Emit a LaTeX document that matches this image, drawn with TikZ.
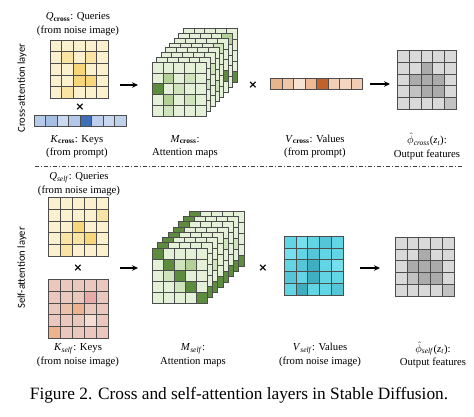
\documentclass[tikz,border=0pt]{standalone}
\usepackage{fontspec}
\setmainfont{Liberation Serif}
\newfontfamily\sidefont{Carlito}
\newfontfamily\symfont{DejaVu Sans}
\usetikzlibrary{arrows.meta}
% yellow
\definecolor{yA}{HTML}{FCF1CF}\definecolor{yB}{HTML}{FAE4A3}\definecolor{yC}{HTML}{F7D77A}
% blue bar
\definecolor{kb1}{HTML}{B6CAEA}\definecolor{kb2}{HTML}{A8BFE4}\definecolor{kb3}{HTML}{CADAF0}
\definecolor{kb4}{HTML}{B3C8E8}\definecolor{kbd}{HTML}{3F70B7}\definecolor{kb5}{HTML}{BDCFEC}
\definecolor{kb6}{HTML}{C9D8F0}\definecolor{kb7}{HTML}{C0D1EC}
% orange bar
\definecolor{vo1}{HTML}{E9B48C}\definecolor{vo2}{HTML}{F0C7A6}\definecolor{vo3}{HTML}{F8E2D4}
\definecolor{vo4}{HTML}{EDBA93}\definecolor{vod}{HTML}{C0622A}\definecolor{vo5}{HTML}{F2CFB5}
\definecolor{vo6}{HTML}{F4D6C0}\definecolor{vo7}{HTML}{F2CDB2}
% pink
\definecolor{pA}{HTML}{EBC8BE}\definecolor{pB}{HTML}{E8AAA8}\definecolor{pC}{HTML}{EDB38E}
\definecolor{pD}{HTML}{F3DDD4}\definecolor{pE}{HTML}{EDC0AA}
% green
\definecolor{gA}{HTML}{E5F0D9}\definecolor{gB}{HTML}{CFE3BC}\definecolor{gM}{HTML}{B3D197}
\definecolor{gD}{HTML}{5E8C3F}
% cyan
\definecolor{cA}{HTML}{62D5E5}\definecolor{cB}{HTML}{76DFED}\definecolor{cC}{HTML}{55C6D8}
\definecolor{cD}{HTML}{3FAEC0}
% gray
\definecolor{oA}{HTML}{D9D9D9}\definecolor{oB}{HTML}{C2C2C2}\definecolor{oC}{HTML}{ABABAB}
\definecolor{lineC}{HTML}{4D4D4D}

\newcommand{\cellgrid}[6]{%
  \foreach \cc [count=\i from 0] in {#6} {%
    \pgfmathtruncatemacro{\rr}{floor(\i/#3)}%
    \pgfmathtruncatemacro{\kk}{\i-\rr*#3}%
    \filldraw[fill=\cc, gridline] ({#1+\kk*#4},{#2+\rr*#5}) rectangle ++(#4,#5);%
  }%
}

\begin{document}
\begin{tikzpicture}[x=1pt,y=-1pt,
  gridline/.style={draw=lineC, line width=0.6pt},
  lbl/.style={align=center, inner sep=0pt, font=\fontsize{10.7}{13.6}\selectfont},
  side/.style={rotate=90, inner sep=0pt, font=\sidefont\fontsize{10.6}{12}\selectfont},
  times/.style={inner sep=0pt, font=\symfont\bfseries\fontsize{11}{11}\selectfont},
  arr/.style={-{Stealth[length=6pt,width=5.5pt]}, line width=1.2pt, black},
  sep/.style={draw=black!75, line width=0.7pt, dash pattern=on 4pt off 2pt on 1pt off 2pt}
]
\useasboundingbox[fill=white] (0,0) rectangle (474,416);

%================ CROSS ATTENTION =================
% Q cross
\cellgrid{50}{40}{5}{11.6}{11.6}{yA,yA,yA,yA,yA, yA,yB,yA,yB,yA, yA,yA,yC,yA,yA, yA,yA,yC,yC,yA, yA,yB,yA,yA,yA}
% K cross bar
\cellgrid{34.3}{115}{8}{11.46}{11}{kb1,kb2,kb3,kb4,kbd,kb5,kb6,kb7}
% M cross stack
\cellgrid{152+7*4.43}{62-7*4.79}{5}{10.8}{10.8}{gA,gA,gA,gA,gA, gA,gA,gA,gA,gA, gA,gA,gA,gA,gA, gA,gA,gA,gA,gA, gA,gA,gA,gA,gD}
\cellgrid{152+6*4.43}{62-6*4.79}{5}{10.8}{10.8}{gA,gA,gA,gA,gM, gA,gA,gA,gA,gA, gA,gA,gA,gA,gA, gA,gA,gA,gA,gA, gA,gA,gA,gA,gA}
\cellgrid{152+5*4.43}{62-5*4.79}{5}{10.8}{10.8}{gA,gA,gA,gA,gA, gA,gA,gA,gA,gA, gA,gA,gA,gA,gA, gA,gA,gA,gA,gD, gA,gA,gA,gA,gA}
\cellgrid{152+4*4.43}{62-4*4.79}{5}{10.8}{10.8}{gA,gA,gA,gA,gB, gA,gA,gA,gA,gA, gA,gA,gA,gA,gA, gA,gA,gA,gA,gA, gA,gA,gA,gA,gA}
\cellgrid{152+3*4.43}{62-3*4.79}{5}{10.8}{10.8}{gA,gA,gA,gA,gA, gA,gA,gA,gA,gA, gA,gA,gA,gA,gA, gA,gA,gA,gA,gB, gA,gA,gA,gA,gA}
\cellgrid{152+2*4.43}{62-2*4.79}{5}{10.8}{10.8}{gA,gA,gA,gA,gA, gA,gA,gA,gA,gB, gA,gA,gA,gA,gA, gA,gA,gA,gA,gA, gA,gA,gA,gA,gA}
\cellgrid{152+1*4.43}{62-1*4.79}{5}{10.8}{10.8}{gA,gA,gA,gA,gA, gA,gA,gA,gA,gA, gA,gA,gA,gA,gB, gA,gA,gA,gA,gA, gA,gA,gA,gA,gA}
\cellgrid{152}{62}{5}{10.8}{10.8}{gA,gA,gA,gA,gA, gA,gM,gA,gB,gA, gD,gA,gB,gA,gA, gA,gM,gA,gB,gA, gA,gB,gA,gA,gA}
% V cross bar
\cellgrid{270.7}{78}{8}{11.5}{11}{vo1,vo2,vo3,vo4,vod,vo5,vo6,vo7}
% Output cross
\cellgrid{397}{50}{5}{11.9}{11.9}{oA,oA,oA,oA,oA, oA,oA,oC,oA,oA, oA,oC,oC,oC,oA, oA,oB,oC,oC,oA, oA,oA,oA,oA,oB}

% operators and arrows
\node[times] (xc1) at (80,107) {×};
\node[times] (xc2) at (253,85) {×};
\coordinate (ac1s) at (120,85); \coordinate (ac1e) at (138,85);
\coordinate (ac2s) at (370,84); \coordinate (ac2e) at (390,84);
\draw[arr] (ac1s) -- (ac1e);
\draw[arr] (ac2s) -- (ac2e);

% labels
\node[side] (sidec) at (22,88) {Cross-attention layer};
\node[lbl] (lqc) at (78,24) {\textit{Q}\textsubscript{\textbf{cross}}: Queries\\(from noise image)};
\node[lbl] (lkc) at (77,146.5) {\textit{K}\textsubscript{\textbf{cross}}: Keys\\(from prompt)};
\node[lbl] (lmc) at (185,146.5) {\textit{M}\textsubscript{\textbf{cross}}:\\Attention maps};
\node[lbl] (lvc) at (315,146.5) {\textit{V}\textsubscript{\textbf{cross}}: Values\\(from prompt)};
\node[lbl] (loc) at (427,146.5) {$\hat{\phi}$\textsubscript{\textit{cross}}(\textit{z}\textsubscript{\textit{t}}):\\Output features};

% separator
\coordinate (sepL) at (35,166); \coordinate (sepR) at (463,166);
\draw[sep] (sepL) -- (sepR);

%================ SELF ATTENTION =================
\cellgrid{48.5}{197}{5}{11.9}{11.9}{yA,yA,yA,yA,yA, yA,yA,yA,yA,yB, yA,yA,yC,yA,yA, yA,yB,yB,yC,yA, yA,yB,yA,yA,yA}
\cellgrid{48.5}{279}{5}{11.9}{11.9}{pA,pA,pA,pA,pA, pA,pA,pA,pB,pA, pA,pE,pC,pA,pA, pA,pA,pA,pD,pA, pC,pA,pA,pA,pA}
% M self stack
\cellgrid{152+7*5.29}{248-7*5.29}{5}{11}{11}{gD,gA,gA,gA,gA, gA,gD,gA,gA,gA, gA,gA,gD,gA,gA, gA,gA,gA,gD,gA, gA,gA,gA,gA,gD}
\cellgrid{152+6*5.29}{248-6*5.29}{5}{11}{11}{gD,gA,gA,gA,gA, gA,gD,gA,gA,gA, gA,gA,gD,gA,gB, gA,gA,gA,gD,gA, gA,gA,gA,gA,gD}
\cellgrid{152+5*5.29}{248-5*5.29}{5}{11}{11}{gD,gA,gA,gA,gA, gA,gD,gA,gA,gA, gA,gA,gD,gA,gA, gA,gA,gA,gD,gA, gA,gA,gA,gA,gD}
\cellgrid{152+4*5.29}{248-4*5.29}{5}{11}{11}{gD,gA,gA,gA,gA, gA,gD,gA,gA,gB, gA,gA,gD,gA,gA, gA,gA,gA,gD,gA, gA,gA,gA,gA,gD}
\cellgrid{152+3*5.29}{248-3*5.29}{5}{11}{11}{gD,gA,gA,gA,gA, gA,gD,gA,gA,gA, gA,gA,gD,gA,gA, gA,gA,gA,gD,gA, gA,gA,gA,gA,gD}
\cellgrid{152+2*5.29}{248-2*5.29}{5}{11}{11}{gD,gA,gA,gA,gA, gA,gD,gA,gA,gA, gA,gA,gD,gA,gB, gA,gA,gA,gD,gA, gA,gA,gA,gA,gD}
\cellgrid{152+1*5.29}{248-1*5.29}{5}{11}{11}{gD,gA,gA,gA,gA, gA,gD,gA,gA,gA, gA,gA,gD,gA,gA, gA,gA,gA,gD,gA, gA,gA,gA,gA,gD}
\cellgrid{152}{248}{5}{11}{11}{gD,gA,gA,gA,gA, gA,gD,gB,gM,gA, gA,gB,gD,gA,gA, gA,gA,gB,gD,gA, gA,gA,gA,gA,gD}
% V self
\cellgrid{284}{236}{5}{11.8}{11.8}{cA,cB,cA,cC,cA, cB,cA,cC,cA,cA, cA,cC,cD,cA,cB, cC,cA,cD,cA,cA, cA,cD,cA,cA,cC}
% Output self
\cellgrid{395}{237}{5}{11.8}{11.8}{oA,oA,oA,oA,oA, oA,oA,oC,oA,oA, oA,oC,oC,oC,oA, oA,oB,oC,oC,oA, oA,oA,oA,oA,oB}

\node[times] (xs1) at (78,268) {×};
\node[times] (xs2) at (263,268) {×};
\coordinate (as1s) at (120,268); \coordinate (as1e) at (138,268);
\coordinate (as2s) at (360,268); \coordinate (as2e) at (380,268);
\draw[arr] (as1s) -- (as1e);
\draw[arr] (as2s) -- (as2e);

\node[side] (sides) at (22,268) {Self-attention layer};
\node[lbl] (lqs) at (79,184) {\textit{Q}\textsubscript{\textit{self}}: Queries\\(from noise image)};
\node[lbl] (lks) at (78,355) {\textit{K}\textsubscript{\textit{self}}: Keys\\(from noise image)};
\node[lbl] (lms) at (193,355) {\textit{M}\textsubscript{\textit{self}}:\\Attention maps};
\node[lbl] (lvs) at (320,355) {\textit{V}\textsubscript{\textit{self}}: Values\\(from noise image)};
\node[lbl] (los) at (433,355) {$\hat{\phi}$\textsubscript{\textit{self}}(\textit{z}\textsubscript{\textit{t}}):\\Output features};

% caption
\node[inner sep=0pt, font=\fontsize{17.3}{20}\selectfont] (cap) at (239,395) {Figure 2. Cross and self-attention layers in Stable Diffusion.};
\end{tikzpicture}
\end{document}
